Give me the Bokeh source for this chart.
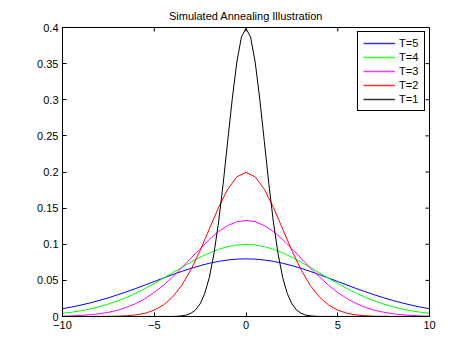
import math
from bokeh.plotting import figure
from bokeh.embed import file_html
from bokeh.resources import INLINE
from bokeh.models import LinearAxis, FixedTicker, NumeralTickFormatter, Range1d, Legend, LegendItem

# x grid for the broad curves (step 0.5)
x_half = [-10, -9.5, -9, -8.5, -8, -7.5, -7, -6.5, -6, -5.5, -5, -4.5, -4, -3.5, -3, -2.5, -2, -1.5, -1, -0.5,
          0, 0.5, 1, 1.5, 2, 2.5, 3, 3.5, 4, 4.5, 5, 5.5, 6, 6.5, 7, 7.5, 8, 8.5, 9, 9.5, 10]

t5 = [0.0108, 0.0131, 0.0158, 0.0188, 0.0222, 0.0259, 0.0300, 0.0343, 0.0388, 0.0436, 0.0484, 0.0532, 0.0579,
      0.0625, 0.0666, 0.0704, 0.0737, 0.0763, 0.0782, 0.0794,
      0.0798,
      0.0794, 0.0782, 0.0763, 0.0737, 0.0704, 0.0666, 0.0625, 0.0579, 0.0532, 0.0484, 0.0436, 0.0388, 0.0343,
      0.0300, 0.0259, 0.0222, 0.0188, 0.0158, 0.0131, 0.0108]

t4 = [0.0044, 0.0059, 0.0079, 0.0104, 0.0135, 0.0172, 0.0216, 0.0266, 0.0324, 0.0387, 0.0457, 0.0530, 0.0605,
      0.0680, 0.0753, 0.0820, 0.0880, 0.0930, 0.0967, 0.0989,
      0.0997,
      0.0989, 0.0967, 0.0930, 0.0880, 0.0820, 0.0753, 0.0680, 0.0605, 0.0530, 0.0457, 0.0387, 0.0324, 0.0266,
      0.0216, 0.0172, 0.0135, 0.0104, 0.0079, 0.0059, 0.0044]

t3 = [0.0005, 0.0009, 0.0015, 0.0024, 0.0038, 0.0058, 0.0087, 0.0127, 0.0180, 0.0248, 0.0332, 0.0432, 0.0547,
      0.0673, 0.0807, 0.0940, 0.1065, 0.1174, 0.1258, 0.1312,
      0.1330,
      0.1312, 0.1258, 0.1174, 0.1065, 0.0940, 0.0807, 0.0673, 0.0547, 0.0432, 0.0332, 0.0248, 0.0180, 0.0127,
      0.0087, 0.0058, 0.0038, 0.0024, 0.0015, 0.0009, 0.0005]

t2 = [0.0, 0.0, 0.0, 0.0, 0.0001, 0.0002, 0.0004, 0.0010, 0.0022, 0.0045, 0.0088, 0.0159, 0.0270,
      0.0431, 0.0648, 0.0913, 0.1210, 0.1506, 0.1760, 0.1933,
      0.1995,
      0.1933, 0.1760, 0.1506, 0.1210, 0.0913, 0.0648, 0.0431, 0.0270, 0.0159, 0.0088, 0.0045, 0.0022, 0.0010,
      0.0004, 0.0002, 0.0001, 0.0, 0.0, 0.0, 0.0]

# finer grid for the narrow curve
x_fine = [-10, -4, -3.75, -3.5, -3.25, -3, -2.75, -2.5, -2.25, -2, -1.75, -1.5, -1.25, -1, -0.75, -0.5, -0.25,
          0, 0.25, 0.5, 0.75, 1, 1.25, 1.5, 1.75, 2, 2.25, 2.5, 2.75, 3, 3.25, 3.5, 3.75, 4, 10]

t1 = [0.0, 0.0001, 0.0004, 0.0009, 0.0020, 0.0044, 0.0091, 0.0175, 0.0317, 0.0540, 0.0863, 0.1295, 0.1826,
      0.2420, 0.3011, 0.3521, 0.3867,
      0.3989,
      0.3867, 0.3521, 0.3011, 0.2420, 0.1826, 0.1295, 0.0863, 0.0540, 0.0317, 0.0175, 0.0091, 0.0044, 0.0020,
      0.0009, 0.0004, 0.0001, 0.0]

labels = ["T=5", "T=4", "T=3", "T=2", "T=1"]
colors = ["#0000ff", "#00ff00", "#ff00ff", "#ff0000", "#000000"]
x_ticks = [-10, -5, 0, 5, 10]
y_ticks = [0, 0.05, 0.1, 0.15, 0.2, 0.25, 0.3, 0.35, 0.4]
x_min, x_max = -10, 10
y_min, y_max = 0, 0.4

FONT = "Liberation Sans"

p = figure(width=474, height=355, output_backend="svg", toolbar_location=None,
           x_range=Range1d(x_min, x_max), y_range=Range1d(y_min, y_max),
           min_border_left=62, min_border_right=45, min_border_top=27, min_border_bottom=39,
           x_axis_location=None, y_axis_location=None,
           title="Simulated Annealing Illustration")
p.title.align = "center"
p.title.text_font = FONT
p.title.text_font_style = "normal"
p.title.text_font_size = "11px"
p.title.text_color = "#000000"
p.title.standoff = 11

p.grid.visible = False
p.outline_line_color = "#000000"
p.outline_line_width = 1
p.background_fill_color = "white"
p.border_fill_color = "white"

def make_axis(ticks, fmt=None):
    ax = LinearAxis(ticker=FixedTicker(ticks=ticks))
    ax.major_tick_in = 4
    ax.major_tick_out = 0
    ax.minor_tick_line_color = None
    ax.axis_line_color = "#000000"
    ax.major_tick_line_color = "#000000"
    ax.major_label_text_font = FONT
    ax.major_label_text_color = "#000000"
    ax.major_label_text_font_size = "11px"
    ax.major_label_standoff = 4
    if fmt is not None:
        ax.formatter = fmt
    return ax

p.add_layout(make_axis(x_ticks), "below")
p.add_layout(make_axis(y_ticks, NumeralTickFormatter(format="0.[00]")), "left")

# inward ticks on the top and right edges of the box
p.ray(x=x_ticks, y=y_max, length=4, length_units="screen", angle=-math.pi / 2, line_color="#000000", line_width=1)
p.ray(x=x_max, y=y_ticks, length=4, length_units="screen", angle=math.pi, line_color="#000000", line_width=1)

series = [(x_half, t5), (x_half, t4), (x_half, t3), (x_half, t2), (x_fine, t1)]
items = []
for (xs, ys), lab, col in zip(series, labels, colors):
    p.line(xs, ys, line_color=col, line_width=1)
    # hidden twin used only for the legend swatch (slightly wider stroke renders its colour cleanly)
    sw = p.line(xs, ys, line_color=col, line_width=1.5, line_alpha=0.8, visible=False)
    items.append(LegendItem(label=lab, renderers=[sw]))

legend = Legend(items=items, location="top_right")
legend.margin = 4
legend.padding = 5
legend.spacing = 2
legend.glyph_width = 32
legend.glyph_height = 12
legend.label_height = 12
legend.label_standoff = 4
legend.label_text_font = FONT
legend.label_text_font_size = "11px"
legend.label_text_color = "#000000"
legend.border_line_color = "#000000"
legend.border_line_width = 1
legend.border_line_alpha = 1
legend.background_fill_color = "white"
legend.background_fill_alpha = 1
p.add_layout(legend, "center")

open("out.html", "w").write(file_html(p, INLINE))
